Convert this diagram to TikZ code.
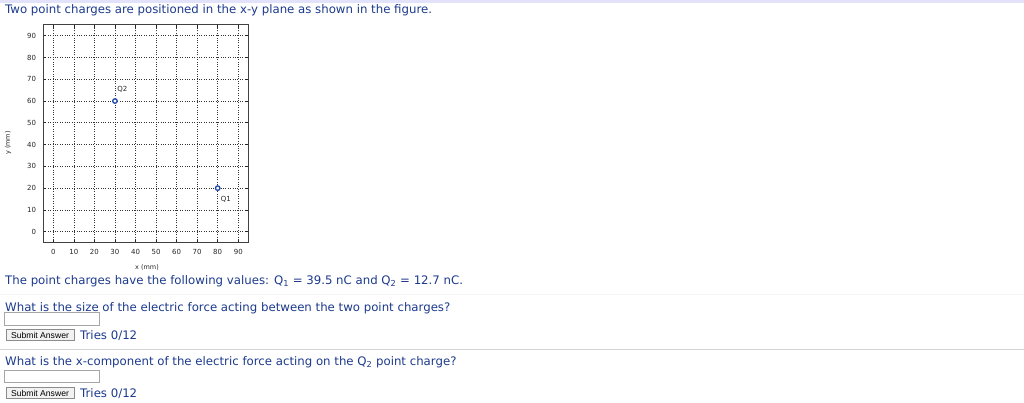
\documentclass[tikz,border=0pt]{standalone}
\usepackage{fontspec}
\setmainfont{DejaVu Sans}
\newfontfamily\arialf{Liberation Sans}
\definecolor{qblue}{HTML}{1C3A8C}
\definecolor{bandc}{HTML}{E2E2FA}
\definecolor{markc}{HTML}{1E48A8}
\begin{document}
\begin{tikzpicture}[x=1pt,y=-1pt,
  qtext/.style={anchor=west,inner sep=0pt,text=qblue,font=\fontsize{11.75}{13}\selectfont},
  inbox/.style={draw=gray!70,fill=white,minimum width=95pt,minimum height=12.5pt,inner sep=0pt,line width=0.8pt},
  btn/.style={draw=gray!90,fill=black!5,minimum width=68pt,minimum height=11.5pt,inner sep=0pt,font=\arialf\fontsize{8.6}{9}\selectfont,line width=0.6pt},
  ticklab/.style={inner sep=0pt,font=\fontsize{7}{8}\selectfont,text=black!85},
  gridl/.style={dash pattern=on 1pt off 1.4pt,black!80,line width=0.7pt},
  charge/.style={circle,draw=markc,fill=white,line width=1.3pt,minimum size=4.5pt,inner sep=0pt}]
\useasboundingbox (0,0) rectangle (1024,403);
\fill[bandc] (0,0) rectangle (1024,3);
\node[qtext] (t1) at (5,9.8) {Two point charges are positioned in the x-y plane as shown in the figure.};
% plot
\begin{scope}[shift={(53.3,231.7)},x=2.055pt,y=2.178pt]
  \foreach \v in {0,10,...,90} {
    \draw[gridl] (\v,-5) -- (\v,95);
    \draw[gridl] (-5,\v) -- (95,\v);
    \draw[black!85,line width=0.6pt] (\v,-5) -- (\v,-3.6) (\v,95) -- (\v,93.6);
    \draw[black!85,line width=0.6pt] (-5,\v) -- (-3.5,\v) (95,\v) -- (93.5,\v);
    \node[ticklab,anchor=east] at (-8.3,\v) {\v};
    \node[ticklab] at (\v,-9.4) {\v};
  }
  \draw[black!75,line width=0.8pt] (-5,-5) rectangle (95,95);
  \node[ticklab,font=\fontsize{6.5}{7}\selectfont] (xl) at (45.6,-16.2) {x (mm)};
  \node[ticklab,font=\fontsize{6.5}{7}\selectfont,rotate=90] (yl) at (-22.05,40.7) {y (mm)};
  \node[charge] (q2) at (30,60) {};
  \node[charge] (q1) at (80,20) {};
  \node[ticklab] (q2l) at (33.6,65.5) {Q2};
  \node[ticklab] (q1l) at (84,15) {Q1};
\end{scope}
\node[qtext] (t2) at (5,281) {The point charges have the following values: Q\textsubscript{1} = 39.5 nC and Q\textsubscript{2} = 12.7 nC.};
\draw[black!4,line width=0.8pt] (0,294.5) -- (1024,294.5);
\node[qtext] (t3) at (5,308) {What is the size of the electric force acting between the two point charges?};
\node[inbox] (in1) at (51.5,319) {};
\node[btn] (b1) at (40,335) {Submit Answer};
\node[qtext] (tr1) at (80,336) {Tries 0/12};
\draw[black!17,line width=0.9pt] (0,349.3) -- (1024,349.3);
\node[qtext] (t4) at (5,362.5) {What is the x-component of the electric force acting on the Q\textsubscript{2} point charge?};
\node[inbox] (in2) at (51.5,376.5) {};
\node[btn] (b2) at (40,393) {Submit Answer};
\node[qtext] (tr2) at (80,394) {Tries 0/12};
\end{tikzpicture}
\end{document}
